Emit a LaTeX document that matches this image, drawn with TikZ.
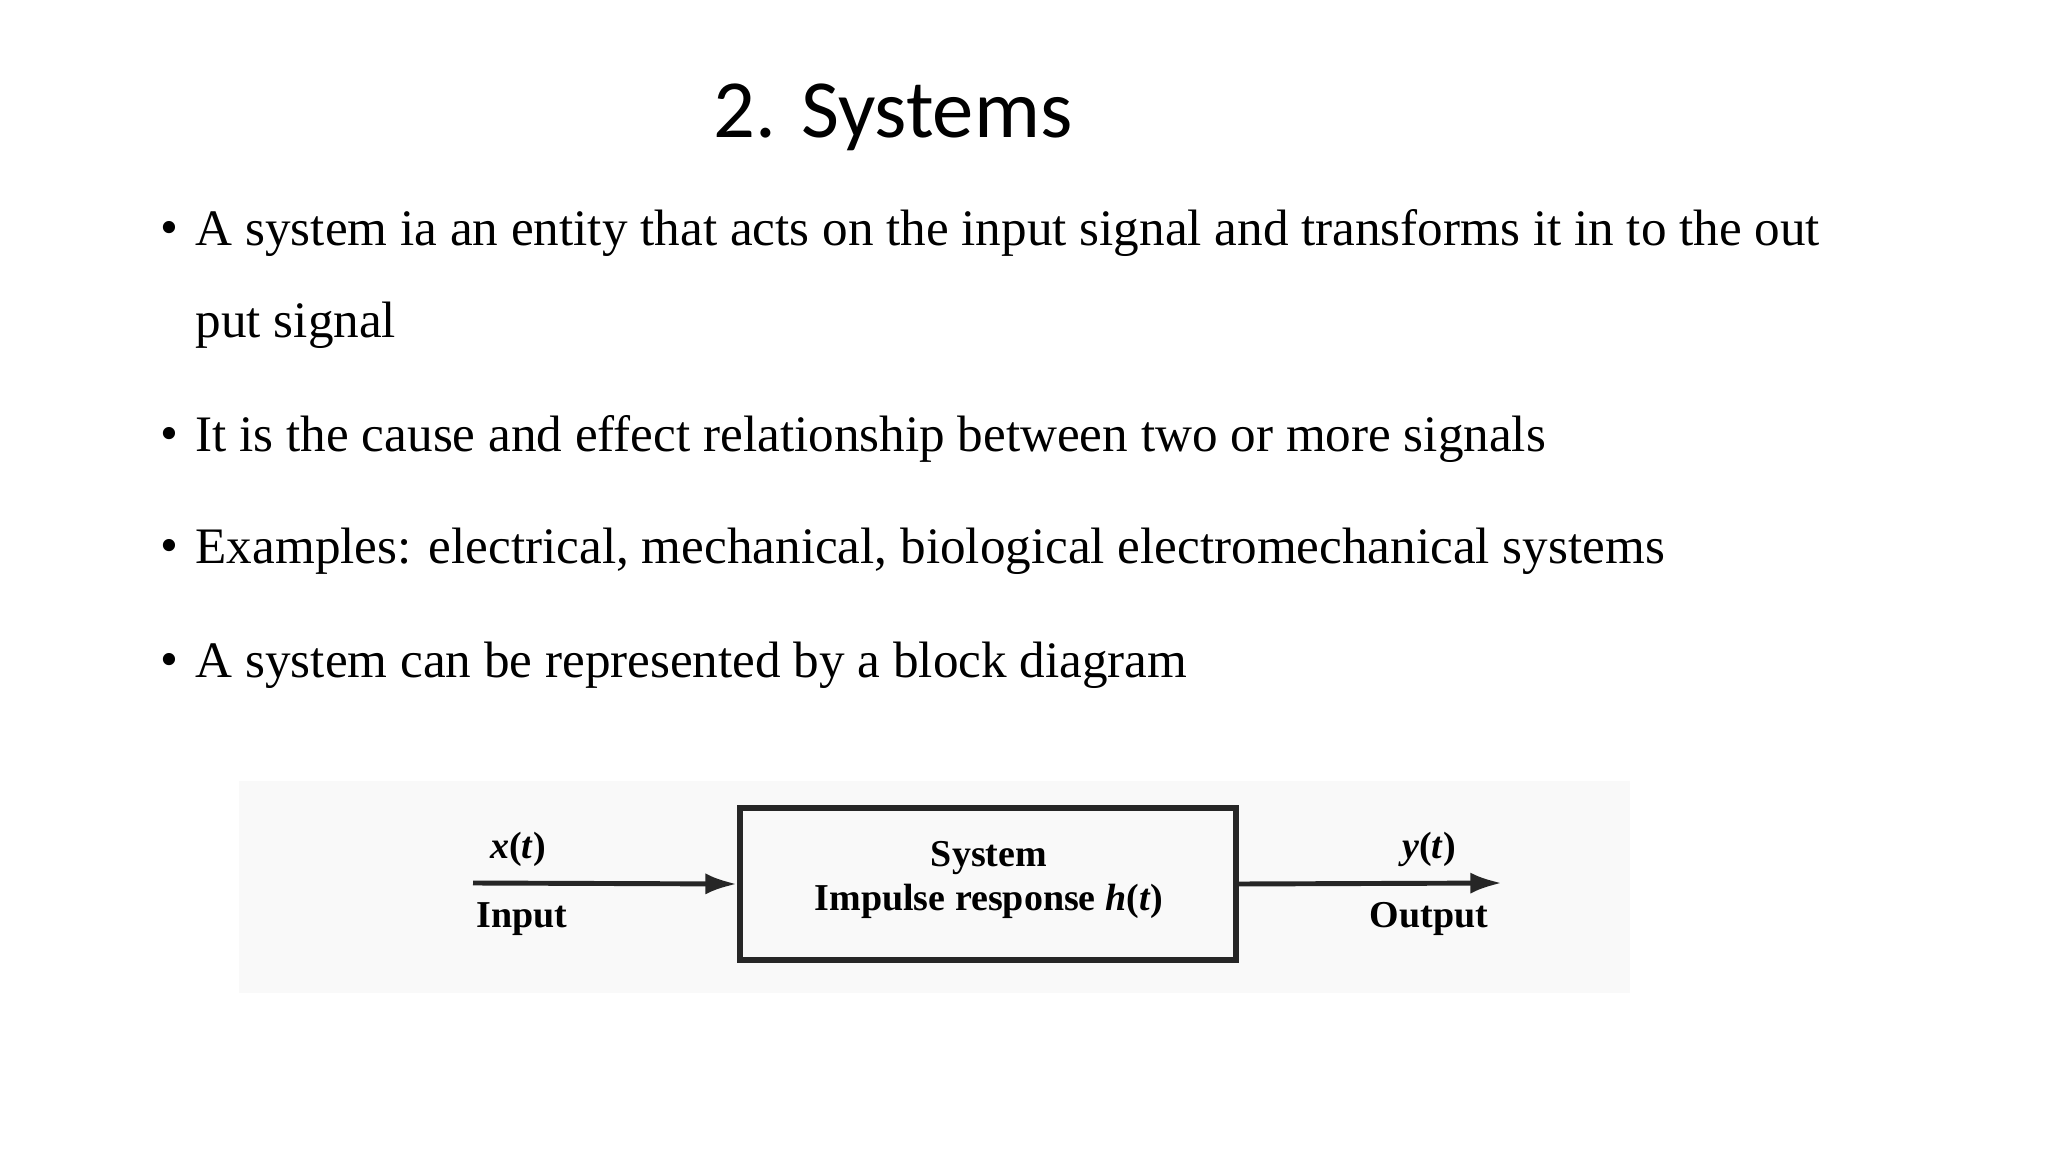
\documentclass[tikz,border=0pt]{standalone}
\usepackage{fontspec}
\setmainfont{Liberation Serif}
\newfontfamily\titlefont{Carlito}
\usetikzlibrary{arrows.meta}
\tikzset{
  bul/.style={anchor=west,font=\fontsize{14.55}{18}\selectfont,inner sep=0pt},
  lbl/.style={font=\bfseries\fontsize{10.8}{13}\selectfont,inner sep=0pt},
  conn/.style={draw=black!85,line width=1.4pt,-{Latex[length=9pt,width=6pt]}}
}
\begin{document}
\begin{tikzpicture}[x=0.01cm,y=-0.01cm]
\useasboundingbox (0,0) rectangle (2048,1152);
\fill[white] (0,0) rectangle (2048,1152);
\node[font=\titlefont\fontsize{23.5}{28}\selectfont] (title) at (893,117) {2. Systems};
\foreach \y/\t [count=\i] in {233/{A system ia an entity that acts on the input signal and transforms it in to the out},
 439/{It is the cause and effect relationship between two or more signals},
 551/{Examples: electrical, mechanical, biological electromechanical systems},
 665/{A system can be represented by a block diagram}}{
  \node[bul] (b\i) at (160,\y) {\textbullet};
  \node[bul] (t\i) at (195,\y) {\t};
}
\node[bul] (t1b) at (195,325) {put signal};
\fill[black!2.5] (239,781) rectangle (1630,993);
\node[draw=black!85,line width=1.6pt,minimum width=4.96cm,minimum height=1.52cm,inner sep=0pt] (sys) at (988,884) {};
\coordinate (in) at (473,883);
\coordinate (out) at (1502,883);
\draw[conn] (in) -- (sys.west);
\draw[conn] (sys.east) -- (out);
\node[lbl] (xt) at (518,849) {\textit{x}(\textit{t})};
\node[lbl] (inp) at (522,919) {Input};
\node[lbl] (yt) at (1429,849) {\textit{y}(\textit{t})};
\node[lbl] (outp) at (1429,919) {Output};
\node[lbl] (s1) at (989,858) {System};
\node[lbl] (s2) at (989,901) {Impulse response \textit{h}(\textit{t})};
\end{tikzpicture}
\end{document}
